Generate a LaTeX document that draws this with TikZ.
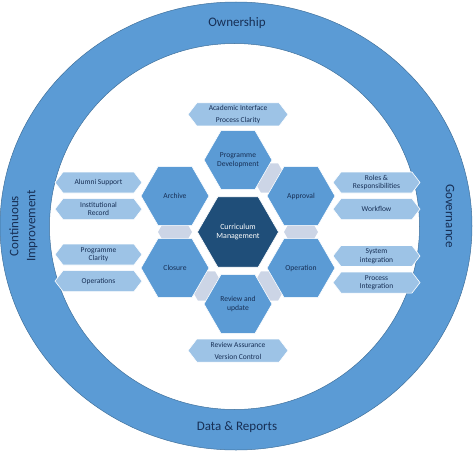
\documentclass[tikz,border=0pt]{standalone}
\usepackage{fontspec}
\setmainfont{Carlito}
\usetikzlibrary{shapes.geometric,shapes.symbols,positioning,calc,backgrounds}
\definecolor{ringblue}{HTML}{5B9BD5}
\definecolor{ringedge}{HTML}{41719C}
\definecolor{hexdark}{HTML}{1F4E79}
\definecolor{tagblue}{HTML}{9DC3E6}
\definecolor{linkpale}{HTML}{CCD5E6}
\definecolor{navy}{HTML}{172F55}

\begin{document}
\begin{tikzpicture}
[x=1pt,y=-1pt,
    hexbox/.style={regular polygon,regular polygon sides=6,minimum size=68pt,
        inner sep=0pt,fill=ringblue,draw=white,line width=.6pt,text=navy,
        font=\fontsize{7.6}{8.8}\selectfont,align=center},
    corebox/.style={hexbox,minimum size=81pt,fill=hexdark,text=white,
        font=\fontsize{7.9}{9.2}\selectfont},
    linkbox/.style={regular polygon,regular polygon sides=6,minimum size=34pt,
        inner sep=0pt,fill=linkpale,draw=none},
    tagbox/.style={signal,signal to=east and west,signal pointer angle=105,
        minimum width=87pt,minimum height=21pt,inner sep=0pt,fill=tagblue,
        draw=white,line width=.6pt,text=navy,
        font=\fontsize{7.5}{8.5}\selectfont,align=center},
    widetag/.style={tagbox,minimum width=100pt,minimum height=23pt,
        font=\fontsize{7.5}{12}\selectfont},
    ringtext/.style={text=navy,font=\fontsize{13}{17}\selectfont,align=center}]
\useasboundingbox (0,0) rectangle (474,452);
%%%%%%%%%%
%% outer ring
\path[fill=ringblue,draw=ringedge,line width=.5pt,even odd rule]
    (236,226) ellipse [x radius=236,y radius=224]
    (234.5,226.5) ellipse [x radius=185,y radius=183];
\node[ringtext] (own) at (237,23) {Ownership};
\node[ringtext] (data) at (237,427) {Data \& Reports};
\node[ringtext,rotate=90] (improve) at (23.5,226) {Continuous\\Improvement};
\node[ringtext,rotate=-90] (gov) at (450,216) {Governance};
%%
%% hexagons
\node[corebox] (core) at (238,232) {Curriculum\\Management};
\node[hexbox] (prog) at (238,160) {Programme\\Development};
\node[hexbox] (appr) at (301,196) {Approval};
\node[hexbox] (oper) at (301,268) {Operation};
\node[hexbox] (review) at (238,304) {Review and\\update};
\node[hexbox] (closure) at (175,268) {Closure};
\node[hexbox] (archive) at (175,196) {Archive};
%% links behind
\begin{scope}[on background layer]
\node[linkbox] (l1) at ($(prog)!.5!(appr)$) {};
\node[linkbox] (l2) at ($(appr)!.5!(oper)$) {};
\node[linkbox] (l3) at ($(oper)!.5!(review)$) {};
\node[linkbox] (l4) at ($(review)!.5!(closure)$) {};
\node[linkbox] (l5) at ($(closure)!.5!(archive)$) {};
\end{scope}
%%
%% tags
\node[widetag,above=4pt of prog] (acad) {Academic Interface\\Process Clarity};
\node[widetag,below=5pt of review] (assure) {Review Assurance\\Version Control};
\node[tagbox] (alumni) at (98.5,182.5) {Alumni Support};
\node[tagbox,below=5pt of alumni] (record) {Institutional\\Record};
\node[tagbox] (clarity) at (98.5,254.5) {Programme\\Clarity};
\node[tagbox,below=5pt of clarity] (ops) {Operations};
\node[tagbox] (roles) at (376.5,182.5) {Roles \&\\Responsibilities};
\node[tagbox,below=5pt of roles] (flow) {Workflow};
\node[tagbox] (system) at (376.5,256) {System\\integration};
\node[tagbox,below=5pt of system] (procint) {Process\\Integration};
\end{tikzpicture}
\end{document}
